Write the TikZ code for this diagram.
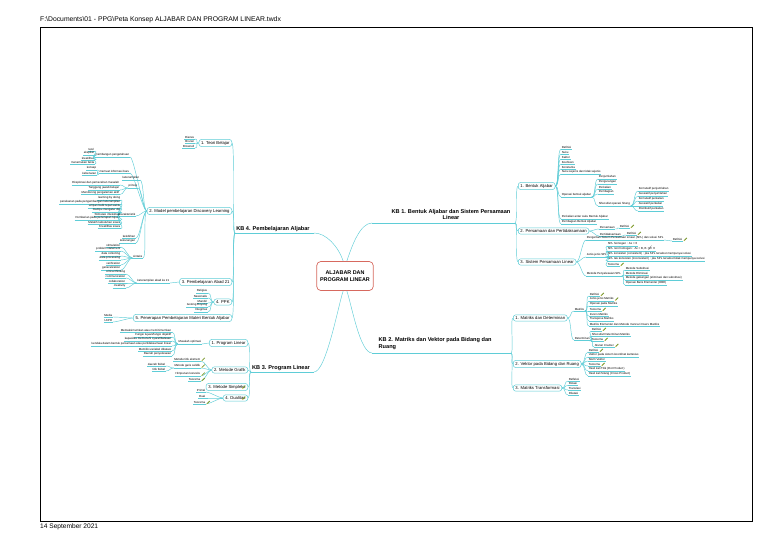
\documentclass[tikz,border=0pt]{standalone}
\usepackage{fontspec}
\setmainfont{Liberation Sans}
\definecolor{lk}{RGB}{95,205,215}
\definecolor{rootc}{RGB}{215,105,95}
\definecolor{pgreen}{RGB}{120,150,40}
\definecolor{pyel}{RGB}{230,200,60}
\newcommand\lffont{\fontsize{2.9}{3.3}\selectfont}
\newcommand\sbfont{\fontsize{4.2}{5}\selectfont}
\newcommand\kbfont{\fontsize{5.6}{6.8}\selectfont\bfseries}
\newcommand\rtfont{\fontsize{5.4}{6.6}\selectfont\bfseries}
\newcommand\rleaf[5]{\node[leafR] (#2) at (#3,#4) {#5};\draw[lnk] (#1) .. controls +(4,0) and +(-4,0) .. (#2.south west);}
\newcommand\lleaf[5]{\node[leafL] (#2) at (#3,#4) {#5};\draw[lnk] (#1) .. controls +(-4,0) and +(4,0) .. (#2.south east);}
\newcommand\pen[1]{\pic[xshift=2.4pt] at (#1.east) {pen};}
\tikzset{
 lnk/.style={draw=lk,line width=0.45pt},
 leafbase/.style={font=\lffont,inner xsep=0.6pt,inner ysep=0.5pt,
   append after command={(\tikzlastnode.south west) edge[lnk] (\tikzlastnode.south east)}},
 leafR/.style={leafbase,anchor=south west},
 leafL/.style={leafbase,anchor=south east},
 subbox/.style={draw=lk,line width=0.5pt,rounded corners=2.5pt,font=\sbfont,fill=white,inner xsep=2.2pt,inner ysep=1.6pt},
 kbl/.style={font=\kbfont,inner sep=0.5pt},
 rootbox/.style={draw=rootc,line width=0.7pt,rounded corners=4pt,fill=white,font=\rtfont,align=center,minimum width=56pt,minimum height=29pt},
 pen/.pic={\fill[pgreen] (-1.6,1.0) -- (1.0,-1.6) -- (1.6,-1.0) -- (-1.0,1.6) -- cycle;
           \fill[pyel] (-1.6,1.0) -- (-1.0,1.6) -- (-2.0,2.0) -- cycle;}
}
\begin{document}
\begin{tikzpicture}[x=1pt,y=-1pt]
\useasboundingbox (0,0) rectangle (768,543);
\fill[white] (0,0) rectangle (768,543);
% header, frame, footer
\node[anchor=base west,font=\fontsize{6.8}{8}\selectfont,inner sep=0] (hdr) at (40,22) {F:\textbackslash Documents\textbackslash 01 - PPG\textbackslash Peta Konsep ALJABAR DAN PROGRAM LINEAR.twdx};
\draw[black,line width=0.8pt] (40,27) rectangle (752,521);
\node[anchor=base west,font=\fontsize{6.6}{8}\selectfont,inner sep=0] (ftr) at (40,528.5) {14 September 2021};

% root
\node[rootbox] (root) at (345,276) {ALJABAR DAN\\PROGRAM LINEAR};

% ===== KB 1 =====
\node[kbl,align=center] (kb1) at (451,214.5) {KB 1. Bentuk Aljabar dan Sistem Persamaan\\Linear};
\coordinate (kb1a) at (372,223);
\coordinate (kb1b) at (515,223);
\draw[lnk] (root.83) .. controls +(5,-15) and +(-12,0) .. (kb1a);
\draw[lnk] (kb1a) -- (kb1b);
\node[subbox,anchor=west] (b1) at (518,186) {1. Bentuk Aljabar};
\node[subbox,anchor=west] (b2) at (518,231) {2. Persamaan dan Pertidaksamaan};
\node[subbox,anchor=west] (b3) at (518,262) {3. Sistem Persamaan Linear};
\foreach \n in {b1,b2,b3}{\draw[lnk] (kb1b) .. controls +(3,0) and +(-3,0) .. (\n.west);}

\rleaf{b1.east}{b1a}{561}{149}{Definisi}
\rleaf{b1.east}{b1b}{561}{154}{Suku}
\rleaf{b1.east}{b1c}{561}{159}{Faktor}
\rleaf{b1.east}{b1d}{561}{164}{Koefisien}
\rleaf{b1.east}{b1e}{561}{169}{Konstanta}
\rleaf{b1.east}{b1f}{561}{174}{Suku sejenis dan tidak sejenis}
\rleaf{b1.east}{b1g}{561}{197}{Operasi bentuk aljabar}
\rleaf{b1.east}{b1h}{561}{219}{Perkalian antar suku Bentuk Aljabar}
\rleaf{b1.east}{b1i}{561}{224}{Pembagian Bentuk Aljabar}
\rleaf{b1g.south east}{op1}{598}{179}{Penjumlahan}
\rleaf{b1g.south east}{op2}{598}{184}{Pengurangan}
\rleaf{b1g.south east}{op3}{598}{189}{Perkalian}
\rleaf{b1g.south east}{op4}{598}{194}{Pembagian}
\rleaf{b1g.south east}{op5}{598}{206}{Sifat-sifat operasi hitung}
\rleaf{op5.south east}{sf1}{638}{191}{Komutatif penjumlahan}
\rleaf{op5.south east}{sf2}{638}{196}{Asosiatif penjumlahan}
\rleaf{op5.south east}{sf3}{638}{201}{Komutatif perkalian}
\rleaf{op5.south east}{sf4}{638}{206}{Asosiatif perkalian}
\rleaf{op5.south east}{sf5}{638}{211}{Distributif perkalian}

\rleaf{b2.east}{b2a}{599}{229}{Persamaan}
\rleaf{b2.east}{b2b}{599}{236}{Pertidaksamaan}
\rleaf{b2a.south east}{b2c}{619}{228}{Definisi}\pen{b2c}
\rleaf{b2b.south east}{b2d}{626}{235}{Definisi}\pen{b2d}

\rleaf{b3.east}{b3a}{586}{240}{Pengertian Sistem Persamaan Linear (SPL) dan solusi SPL}
\rleaf{b3a.south east}{b3a1}{672}{241}{Definisi}\pen{b3a1}
\rleaf{b3.east}{b3b}{586}{257}{Jenis-jenis SPL}
\rleaf{b3b.south east}{sp1}{607}{246}{SPL homogen : Ax = 0}
\rleaf{b3b.south east}{sp2}{607}{251}{SPL non homogen : Ax = B, B $\neq$ 0}
\rleaf{b3b.south east}{sp3}{607}{256}{SPL konsisten (consistent) : jika SPL tersebut mempunyai solusi}
\rleaf{b3b.south east}{sp4}{607}{261}{SPL tak konsisten (inconsistent) : jika SPL tersebut tidak mempunyai solusi}
\rleaf{b3b.south east}{sp5}{607}{266}{Teorema}\pen{sp5}
\rleaf{b3.east}{b3c}{586}{276}{Metode Penyelesaian SPL}
\rleaf{b3c.south east}{mt1}{625}{270}{Metode Substitusi}
\rleaf{b3c.south east}{mt2}{625}{275}{Metode Eliminasi}
\rleaf{b3c.south east}{mt3}{625}{280}{Metode gabungan (eliminasi dan substitusi)}
\rleaf{b3c.south east}{mt4}{625}{285}{Operasi Baris Elementer (OBE)}

% ===== KB 2 =====
\node[kbl,align=left,anchor=north west] (kb2) at (378,337) {KB 2. Matriks dan Vektor pada Bidang dan\\Ruang};
\coordinate (kb2a) at (372,353);
\coordinate (kb2b) at (511,353);
\draw[lnk] (root.-83) .. controls +(5,15) and +(-12,0) .. (kb2a);
\draw[lnk] (kb2a) -- (kb2b);
\node[subbox,anchor=west] (d1) at (513,318) {1. Matriks dan Determinan};
\node[subbox,anchor=west] (d2) at (513,364) {2. Vektor pada Bidang dan Ruang};
\node[subbox,anchor=west] (d3) at (513,388) {3. Matriks Transformasi};
\foreach \n in {d1,d2,d3}{\draw[lnk] (kb2b) .. controls +(3,0) and +(-3,0) .. (\n.west);}

\rleaf{d1.east}{d1a}{574}{311}{Matriks}
\rleaf{d1.east}{d1b}{574}{340}{Determinan}
\rleaf{d1a.south east}{mx1}{589}{296}{Definisi}\pen{mx1}
\rleaf{d1a.south east}{mx2}{589}{301}{Jenis-jenis Matriks}\pen{mx2}
\rleaf{d1a.south east}{mx3}{589}{306}{Operasi pada Matriks}
\rleaf{d1a.south east}{mx4}{589}{311}{Teorema}\pen{mx4}
\rleaf{d1a.south east}{mx5}{589}{316}{Invers Matriks}
\rleaf{d1a.south east}{mx6}{589}{321}{Transpose Matriks}
\rleaf{d1a.south east}{mx7}{589}{326}{Matriks Elementer dan Metode mencari Invers Matriks}
\rleaf{d1b.south east}{dt1}{591}{331}{Definisi}\pen{dt1}
\rleaf{d1b.south east}{dt2}{591}{336}{Sifat-sifat Determinan Matriks}
\rleaf{d1b.south east}{dt3}{591}{341}{Teorema}\pen{dt3}
\rleaf{d1b.south east}{dt4}{594}{347}{Aturan Cramer}\pen{dt4}

\rleaf{d2.east}{vk1}{588}{352}{Definisi}\pen{vk1}
\rleaf{d2.east}{vk2}{588}{357}{Vektor pada sistem koordinat kartesius}
\rleaf{d2.east}{vk3}{588}{361}{Norm Vektor}
\rleaf{d2.east}{vk4}{588}{366}{Teorema}\pen{vk4}
\rleaf{d2.east}{vk5}{588}{371}{Hasil kali Titik (Dot Product)}
\rleaf{d2.east}{vk6}{588}{376}{Hasil kali Silang (Cross Product)}

\rleaf{d3.east}{tr1}{568}{381}{Refleksi}
\rleaf{d3.east}{tr2}{568}{385.5}{Rotasi}
\rleaf{d3.east}{tr3}{568}{390}{Translasi}
\rleaf{d3.east}{tr4}{568}{395}{Dilatasi}

% ===== KB 4 =====
\node[kbl] (kb4) at (273,229) {KB 4. Pembelajaran Aljabar};
\coordinate (kb4a) at (314,233);
\coordinate (kb4b) at (235,233);
\draw[lnk] (root.97) .. controls +(-5,-15) and +(12,0) .. (kb4a);
\draw[lnk] (kb4a) -- (kb4b);
\node[subbox,anchor=east] (a1) at (232,143) {1. Teori Belajar};
\node[subbox,anchor=east] (a2) at (232,211) {2. Model pembelajaran Discovery Learning};
\node[subbox,anchor=east] (a3) at (232,282) {3. Pembelajaran Abad 21};
\node[subbox,anchor=east] (a4) at (232,302) {4. PPK};
\node[subbox,anchor=east] (a5) at (232,318) {5. Penerapan Pembelajaran Materi Bentuk Aljabar};
\foreach \n in {a1,a2,a3,a4,a5}{\draw[lnk] (kb4b) .. controls +(-3,0) and +(3,0) .. (\n.east);}

\lleaf{a1.west}{t1}{195}{139}{Dienes}
\lleaf{a1.west}{t2}{195}{143.5}{Bruner}
\lleaf{a1.west}{t3}{195}{148}{Brownell}

\lleaf{a2.west}{g1}{130}{157}{membangun pengetahuan}
\lleaf{g1.south west}{g1a}{95}{151}{teori}
\lleaf{g1.south west}{g1b}{95}{155}{eksplisit}
\lleaf{g1.south west}{g1c}{95}{160}{kreatifitas}
\lleaf{g1.south west}{g1d}{95}{164}{menemukan fakta}
\lleaf{a2.west}{g2}{130}{173}{memuat informasi baru}
\lleaf{g2.south west}{g2a}{97}{170}{konsep}
\lleaf{g2.south west}{g2b}{97}{175}{kebenaran}
\lleaf{a2.west}{g3}{140}{180}{keterampilan}
\lleaf{a2.west}{g4}{138}{188}{prinsip}
\lleaf{g4.south west}{g4a}{120}{185}{Eksplorasi dan pemecahan masalah}
\lleaf{g4.south west}{g4b}{120}{190}{Tanggung jawab belajar}
\lleaf{g4.south west}{g4c}{120}{194.5}{Mendorong pengalaman aktif}
\lleaf{a2.west}{g5}{136}{216}{karakteristik}
\lleaf{g5.south west}{g5a}{121}{200}{learning by doing}
\lleaf{g5.south west}{g5b}{121}{204}{penekanan pada pengembangan keterampilan}
\lleaf{g5.south west}{g5c}{121}{208}{umpan balik tepat waktu}
\lleaf{g5.south west}{g5d}{121}{212}{mampu mengatur diri}
\lleaf{g5.south west}{g5e}{121}{216}{Stimulasi intelektual}
\lleaf{g5.south west}{g5f}{121}{220}{Pemberian pada penerapan tujuan}
\lleaf{g5.south west}{g5g}{121}{224}{Melatih kebutuhan siswa}
\lleaf{g5.south west}{g5h}{121}{228.5}{Kreatifitas siswa}
\lleaf{a2.west}{g6}{136}{238}{kelebihan}
\lleaf{a2.west}{g7}{136}{243}{kekurangan}
\lleaf{a2.west}{g8}{143}{258}{sintaks}
\lleaf{g8.south west}{s1}{121}{247}{stimulation}
\lleaf{g8.south west}{s2}{121}{251}{problem statement}
\lleaf{g8.south west}{s3}{121}{256}{data collecting}
\lleaf{g8.south west}{s4}{121}{260}{data processing}
\lleaf{g8.south west}{s5}{121}{265}{verification}
\lleaf{g8.south west}{s6}{121}{270}{generalization}

\lleaf{a3.west}{k21}{170}{283}{keterampilan abad ke 21}
\lleaf{k21.south west}{k1}{126}{274}{critical thinking}
\lleaf{k21.south west}{k2}{126}{278}{communication}
\lleaf{k21.south west}{k3}{126}{283}{collaboration}
\lleaf{k21.south west}{k4}{126}{288}{creativity}

\lleaf{a4.west}{p1}{208}{293}{Religius}
\lleaf{a4.west}{p2}{208}{298}{Nasionalis}
\lleaf{a4.west}{p3}{208}{303}{Mandiri}
\lleaf{a4.west}{p4}{208}{307}{Gotong Royong}
\lleaf{a4.west}{p5}{208}{312}{Integritas}

\lleaf{a5.west}{m1}{113}{317}{Media}
\lleaf{a5.west}{m2}{113}{322}{LKPD}

% ===== KB 3 =====
\node[kbl] (kb3) at (281,368) {KB 3. Program Linear};
\coordinate (kb3a) at (314,372);
\coordinate (kb3b) at (251,372);
\draw[lnk] (root.-97) .. controls +(-5,15) and +(12,0) .. (kb3a);
\draw[lnk] (kb3a) -- (kb3b);
\node[subbox,anchor=east] (c1) at (248,343) {1. Program Linear};
\node[subbox,anchor=east] (c2) at (248,370) {2. Metode Grafik};
\node[subbox,anchor=east] (c3) at (248,387) {3. Metode Simpleks\hspace{4pt}};
\node[subbox,anchor=east] (c4) at (248,398) {4. Dualitas\hspace{4pt}};
\pic[xshift=-4pt] at (c3.east) {pen};
\pic[xshift=-4pt] at (c4.east) {pen};
\foreach \n in {c1,c2,c3,c4}{\draw[lnk] (kb3b) .. controls +(-3,0) and +(3,0) .. (\n.east);}

\lleaf{c1.west}{mo}{202}{344}{Masalah optimasi}
\lleaf{mo.south west}{mo1}{172}{332}{Memaksimumkan atau meminimumkan}
\lleaf{mo.south west}{mo2}{172}{337}{Fungsi tujuan/fungsi objektif}
\lleaf{mo.south west}{mo3}{172}{341}{kapasitas memenuhi syarat/batasan}
\lleaf{mo.south west}{mo4}{172}{346}{kendala dalam bentuk persamaan atau pertidaksamaan linear}
\lleaf{mo.south west}{mo5}{172}{351}{Memiliki variabel dibatasi}
\lleaf{mo.south west}{mo6}{172}{356}{Daerah penyelesaian}

\lleaf{c2.west}{gr1}{201}{361}{Metode titik ekstrem}\pen{gr1}
\lleaf{c2.west}{gr2}{201}{368}{Metode garis selidik}\pen{gr2}
\lleaf{c2.west}{gr3}{201}{376}{Himpunan konveks}\pen{gr3}
\lleaf{c2.west}{gr4}{201}{381}{Teorema}\pen{gr4}
\lleaf{gr2.south west}{gs1}{166}{366}{daerah fisibel}
\lleaf{gr2.south west}{gs2}{166}{371}{titik fisibel}

\lleaf{c4.west}{du1}{206}{392}{Primal}
\lleaf{c4.west}{du2}{206}{398}{Dual}
\lleaf{c4.west}{du3}{206}{404}{Teorema}\pen{du3}
\end{tikzpicture}
\end{document}
